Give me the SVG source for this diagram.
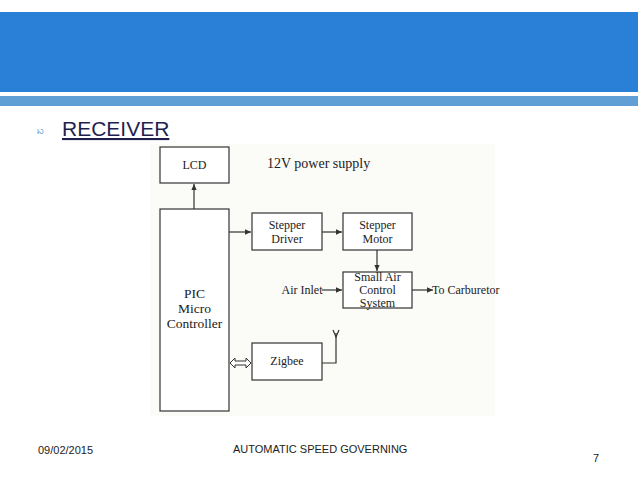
<svg xmlns="http://www.w3.org/2000/svg" width="638" height="478" viewBox="0 0 638 478">
<style>
.b{fill:#fff;stroke:#333;stroke-width:1.2}
.t{font-family:"Liberation Serif",serif;font-size:12px;fill:#222;text-anchor:middle}
.p{font-size:13.5px}
.l{stroke:#333;stroke-width:1.2;fill:none}
.f{font-family:"Liberation Sans",Arial,sans-serif;font-size:11px;fill:#222}
</style>
<defs><marker id="a" markerWidth="6" markerHeight="6" refX="5" refY="3" orient="auto"><path d="M0,0.8L5,3L0,5.2z" fill="#333"/></marker></defs>
<rect width="638" height="478" fill="#fff"/>
<rect x="0" y="12" width="638" height="80" fill="#2a7fd6"/>
<rect x="0" y="96" width="638" height="10" fill="#5f9fd6"/>
<text x="37" y="134" font-family="DejaVu Sans,sans-serif" font-size="11" fill="#4a7fc0">ꩢ</text>
<text x="62" y="136" font-family="Liberation Sans,Arial,sans-serif" font-size="21" fill="#1f1f4f" text-decoration="underline">RECEIVER</text>
<rect x="150" y="144" width="345" height="272" fill="#fbfbf8"/>
<text x="267" y="168" font-family="Liberation Serif,serif" font-size="14" fill="#222">12V power supply</text>
<g id="lcd"><rect class="b" x="160" y="147" width="69" height="36"/><text class="t" x="194.5" y="169">LCD</text></g>
<g id="pic"><rect class="b" x="160" y="209" width="69" height="202"/><text class="t p" x="194.5" y="298">PIC</text><text class="t p" x="194.5" y="313">Micro</text><text class="t p" x="194.5" y="328">Controller</text></g>
<g id="driver"><rect class="b" x="252" y="213" width="70" height="37"/><text class="t" x="287" y="229">Stepper</text><text class="t" x="287" y="243">Driver</text></g>
<g id="motor"><rect class="b" x="343" y="213" width="69" height="37"/><text class="t" x="377.5" y="229">Stepper</text><text class="t" x="377.5" y="243">Motor</text></g>
<g id="air"><rect class="b" x="343" y="272" width="69" height="36"/><text class="t" x="377.5" y="281">Small Air</text><text class="t" x="377.5" y="294">Control</text><text class="t" x="377.5" y="307">System</text></g>
<g id="zigbee"><rect class="b" x="252" y="343" width="70" height="37"/><text class="t" x="287" y="365">Zigbee</text></g>
<text class="t" x="302" y="294">Air Inlet</text>
<text x="432" y="294" font-family="Liberation Serif,serif" font-size="12" fill="#222">To Carburetor</text>
<g id="connectors">
<path class="l" d="M194,209V184" marker-end="url(#a)"/>
<path class="l" d="M229,232H251" marker-end="url(#a)"/>
<path class="l" d="M322,232H342" marker-end="url(#a)"/>
<path class="l" d="M377,250V271" marker-end="url(#a)"/>
<path class="l" d="M322,290H342" marker-end="url(#a)"/>
<path class="l" d="M412,290H433" marker-end="url(#a)"/>
<path class="l" d="M322,363H336V333"/>
<path d="M333,330L336,337L339,330" class="l"/>
<path d="M230,363L235,358V361H246V358L251,363L246,368V365H235V368Z" fill="#fff" stroke="#333" stroke-width="1"/>
</g>
<text class="f" x="38" y="454">09/02/2015</text>
<text class="f" x="233" y="453">AUTOMATIC SPEED GOVERNING</text>
<text class="f" x="593" y="462">7</text>
</svg>
